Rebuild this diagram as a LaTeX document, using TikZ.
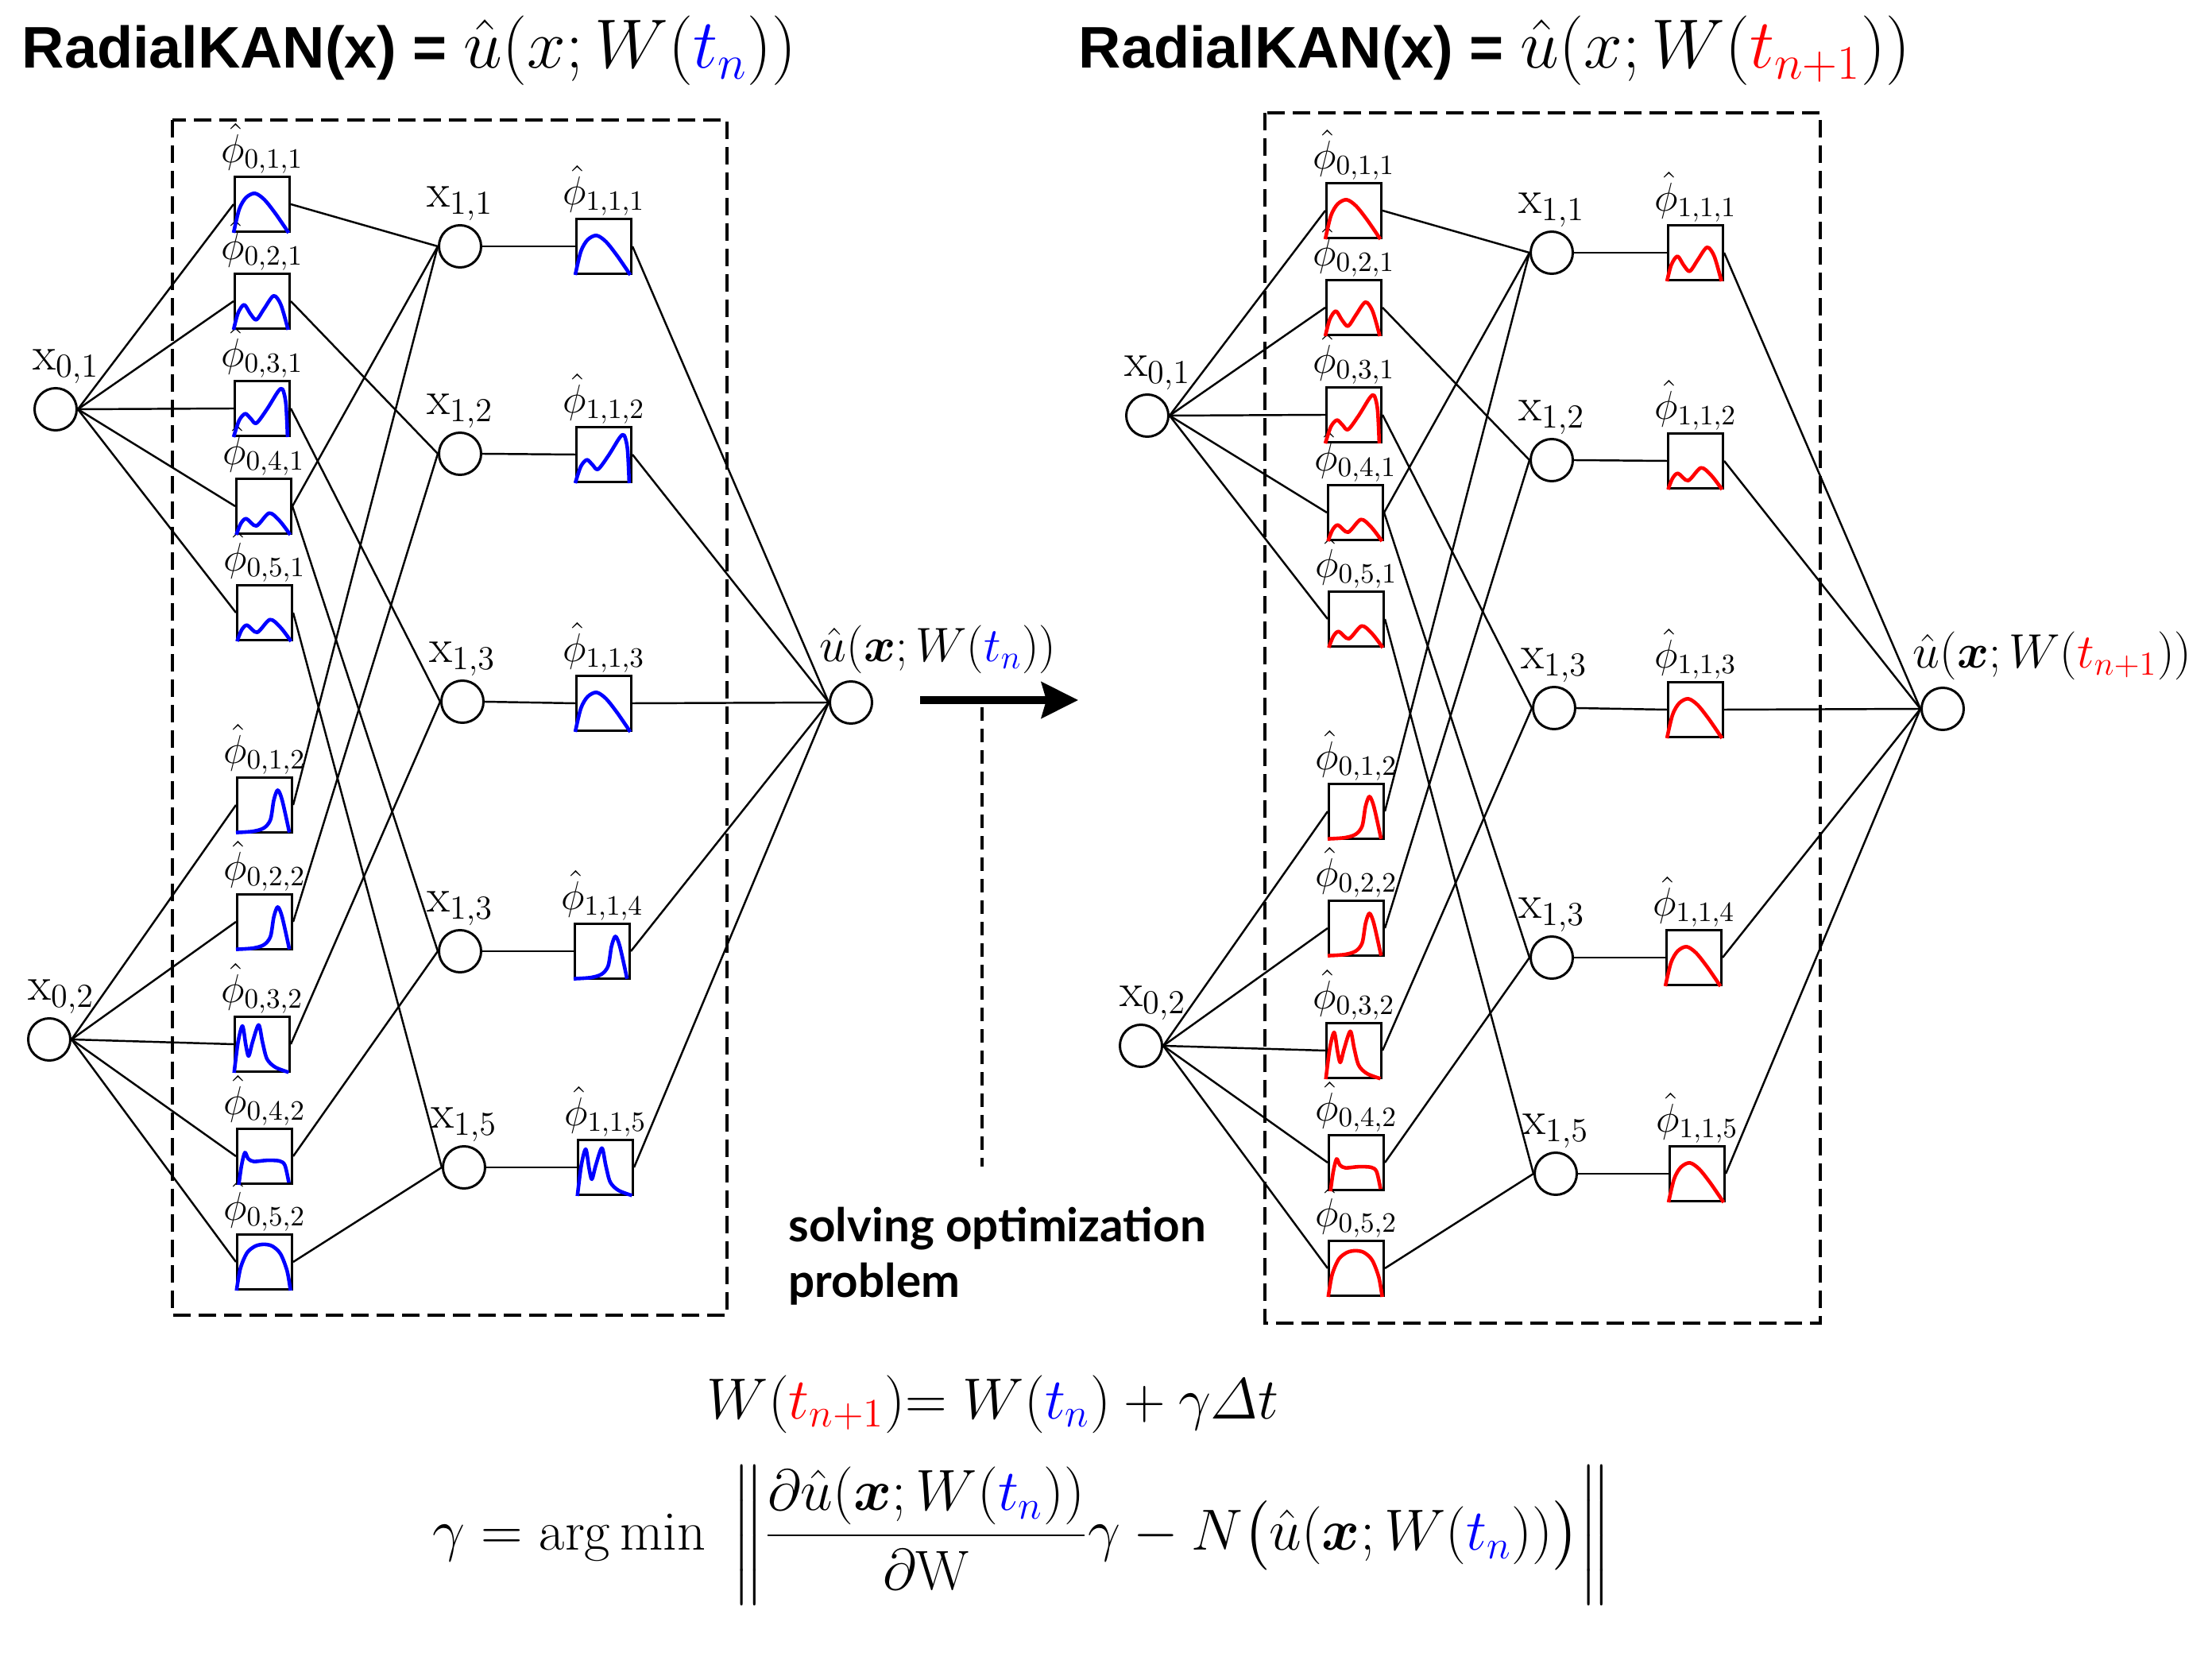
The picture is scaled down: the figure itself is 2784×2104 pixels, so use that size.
\documentclass[tikz,border=0pt]{standalone}
\usepackage{amsmath,bm}
\usepackage{fontspec}
\newfontfamily\titlefont{Liberation Sans}
\newfontfamily\notefont{Lato}
\usetikzlibrary{arrows.meta,positioning}
\definecolor{tblue}{RGB}{0,0,255}
\definecolor{tred}{RGB}{255,0,0}

\tikzset{
	neuron/.style={circle, draw, line width=0.85pt, minimum size=0.53cm, inner sep=0pt},
	fbox/.style={draw, line width=0.85pt, minimum size=0.69cm, inner sep=0pt},
	xlab/.style={font=\fontsize{17}{19}\selectfont, inner sep=1pt},
	flab/.style={font=\fontsize{14}{16}\selectfont, inner sep=0.5pt},
	olab/.style={font=\fontsize{17}{20}\selectfont, inner sep=0pt},
	link/.style={line width=0.7pt},
	frame/.style={line width=1.3pt, dash pattern=on 0.22cm off 0.1cm},
	optline/.style={line width=1.1pt, dash pattern=on 0.17cm off 0.1cm},
	bigarrow/.style={line width=2.6pt, -{Stealth[length=0.46cm, width=0.45cm, inset=0.06cm]}},
	fcurve/.style={line width=1.3pt, line join=round, x=0.7cm, y=0.7cm},
	pics/hump/.style={code={\draw[fcurve] plot[smooth] coordinates {(0,0) (0.1,0.42) (0.22,0.63) (0.38,0.71) (0.55,0.6) (0.75,0.35) (0.99,0)};}},
	pics/twohump/.style={code={\draw[fcurve] plot[smooth] coordinates {(0,0) (0.08,0.3) (0.19,0.45) (0.3,0.29) (0.41,0.18) (0.55,0.38) (0.72,0.61) (0.85,0.45) (0.98,0)};}},
	pics/risehump/.style={code={\draw[fcurve] plot[smooth, tension=0.5] coordinates {(0,0) (0.1,0.3) (0.21,0.42) (0.31,0.33) (0.41,0.25) (0.6,0.5) (0.8,0.82) (0.88,0.86) (0.94,0.6) (0.97,0)};}},
	pics/lowhump/.style={code={\draw[fcurve] plot[smooth] coordinates {(0.02,0) (0.1,0.2) (0.2,0.29) (0.38,0.16) (0.61,0.39) (0.8,0.25) (0.99,0)};}},
	pics/spike/.style={code={\draw[fcurve] plot[smooth, tension=0.5] coordinates {(0,0.02) (0.3,0.04) (0.5,0.1) (0.62,0.25) (0.68,0.6) (0.75,0.78) (0.83,0.6) (0.96,0.02)};}},
	pics/twospike/.style={code={\draw[fcurve] plot[smooth, tension=0.5] coordinates {(0.01,0) (0.08,0.55) (0.16,0.84) (0.22,0.5) (0.27,0.3) (0.34,0.55) (0.45,0.86) (0.52,0.55) (0.6,0.25) (0.75,0.1) (0.99,0.01)};}},
	pics/plateau/.style={code={\draw[fcurve] plot[smooth, tension=0.5] coordinates {(0.05,0) (0.1,0.35) (0.16,0.58) (0.22,0.47) (0.32,0.42) (0.55,0.44) (0.78,0.43) (0.88,0.35) (0.95,0.04)};}},
	pics/arch/.style={code={\draw[fcurve] plot[smooth] coordinates {(0.01,0) (0.08,0.4) (0.2,0.68) (0.35,0.8) (0.5,0.83) (0.65,0.8) (0.8,0.66) (0.92,0.35) (0.98,0)};}},
}

\begin{document}
\begin{tikzpicture}[x=0.01cm, y=-0.01cm]
	\useasboundingbox (0,0) rectangle (2784,2104);

	% titles
	\node[anchor=base west, inner sep=0, font=\titlefont\bfseries\fontsize{21}{24}\selectfont] (titleL) at (27,86) {RadialKAN(x) = {\fontsize{25}{28}\selectfont$\hat{u}(x;W(\textcolor{tblue}{t_n}))$}};
	\node[anchor=base west, inner sep=0, font=\titlefont\bfseries\fontsize{21}{24}\selectfont] (titleR) at (1357,86) {RadialKAN(x) = {\fontsize{25}{28}\selectfont$\hat{u}(x;W(\textcolor{tred}{t_{n+1}}))$}};

	% dashed frames
	\draw[frame] (217,151) rectangle (915,1655);
	\draw[frame] (1592,142) rectangle (2291,1665);

	% the two networks
	\foreach \n/\dx/\dy in {L/0/0, R/1374/8}{
		\begin{scope}[shift={(\dx,\dy)}]
			\node[neuron, label={[xlab, xshift=0.13cm]above:$\mathrm{x}_{0,1}$}] (\n-in1) at (70,515) {};
			\node[neuron, label={[xlab, xshift=0.15cm]above:$\mathrm{x}_{0,2}$}] (\n-in2) at (62,1308) {};
			\foreach \i/\x/\y/\lab in {1/330/257/{0,1,1}, 2/330/379/{0,2,1}, 3/330/514/{0,3,1}, 4/332/637/{0,4,1}, 5/333/771/{0,5,1}, 6/333/1013/{0,1,2}, 7/333/1160/{0,2,2}, 8/330/1314/{0,3,2}, 9/333/1455/{0,4,2}, 10/333/1588/{0,5,2}}
				\node[fbox, label={[flab]above:$\hat{\phi}_{\lab}$}] (\n-f\i) at (\x,\y) {};
			\foreach \i/\x/\y/\lab in {1/579/310/{1,1}, 2/579/571/{1,2}, 3/582/883/{1,3}, 4/579/1197/{1,3}, 5/584/1469/{1,5}}
				\node[neuron, label={[xlab]above:$\mathrm{x}_{\lab}$}] (\n-h\i) at (\x,\y) {};
			\foreach \i/\x/\y/\lab in {1/760/310/{1,1,1}, 2/760/572/{1,1,2}, 3/760/885/{1,1,3}, 4/758/1197/{1,1,4}, 5/762/1469/{1,1,5}}
				\node[fbox, label={[flab]above:$\hat{\phi}_{\lab}$}] (\n-g\i) at (\x,\y) {};
			\node[neuron] (\n-out) at (1071,884) {};
		\end{scope}
		\foreach \i in {1,...,5}
			\draw[link] (\n-in1.east) -- (\n-f\i.west);
		\foreach \i in {6,...,10}
			\draw[link] (\n-in2.east) -- (\n-f\i.west);
		\foreach \a/\b in {1/1, 2/2, 3/3, 4/1, 4/4, 5/5, 6/1, 7/2, 8/3, 9/4, 10/5}
			\draw[link] (\n-f\a.east) -- (\n-h\b.west);
		\foreach \i in {1,...,5}{
			\draw[link] (\n-h\i.east) -- (\n-g\i.west);
			\draw[link] (\n-g\i.east) -- (\n-out.west);
		}
	}

	% curves in the boxes
	\foreach \sh [count=\i] in {hump,twohump,risehump,lowhump,lowhump,spike,spike,twospike,plateau,arch}{
		\pic[tblue] at (L-f\i.south west) {\sh};
		\pic[tred] at (R-f\i.south west) {\sh};
	}
	\foreach \sh [count=\i] in {hump,risehump,hump,spike,twospike}
		\pic[tblue] at (L-g\i.south west) {\sh};
	\foreach \sh [count=\i] in {twohump,lowhump,hump,hump,hump}
		\pic[tred] at (R-g\i.south west) {\sh};

	% outputs
	\node[olab, anchor=south west] (L-outlab) at (1031,848) {$\hat{u}(\bm{x};W(\textcolor{tblue}{t_n}))$};
	\node[olab, anchor=south west] (R-outlab) at (2407,856) {$\hat{u}(\bm{x};W(\textcolor{tred}{t_{n+1}}))$};

	% update step
	\coordinate (arrS) at (1158,881);
	\coordinate (arrE) at (1357,881);
	\draw[bigarrow] (arrS) -- (arrE);
	\coordinate (optT) at (1236,890);
	\coordinate (optB) at (1236,1468);
	\draw[optline] (optT) -- (optB);
	\node[anchor=north west, inner sep=0, align=left, font=\notefont\bfseries\fontsize{16.6}{20}\selectfont] (solve) at (992,1518) {solving optimization\\problem};

	% formulas
	\node[anchor=base west, inner sep=0, font=\fontsize{21}{24}\selectfont] (upd) at (889,1785) {$W(\textcolor{tred}{t_{n+1}})\mkern-5mu= W(\textcolor{tblue}{t_n}) + \gamma\varDelta t$};
	\node[anchor=west, inner sep=0, font=\fontsize{20}{24}\selectfont] (opt) at (544,1932) {$\gamma = \mathrm{arg\,min}\ \left\|\dfrac{\partial\hat{u}(\bm{x};W(\textcolor{tblue}{t_n}))}{\partial\mathrm{W}}\gamma - N\bigl(\hat{u}(\bm{x};W(\textcolor{tblue}{t_n}))\bigr)\right\|$};
\end{tikzpicture}
\end{document}
